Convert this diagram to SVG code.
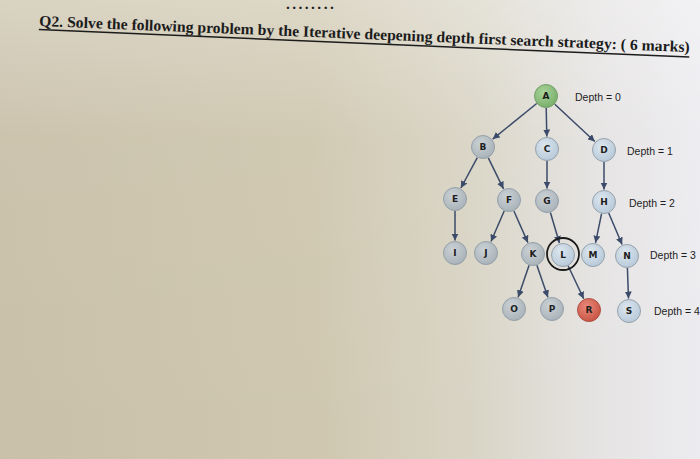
<svg xmlns="http://www.w3.org/2000/svg" width="700" height="459" viewBox="0 0 700 459">
  <defs>
    <linearGradient id="bgH" x1="0" y1="0" x2="1" y2="0">
      <stop offset="0" stop-color="#c9c0a9"/>
      <stop offset="0.45" stop-color="#cfc7af"/>
      <stop offset="0.68" stop-color="#d9d5c6"/>
      <stop offset="0.85" stop-color="#e5e3e2"/>
      <stop offset="1" stop-color="#ecebef"/>
    </linearGradient>
    <linearGradient id="bgV" x1="0" y1="0" x2="0" y2="1">
      <stop offset="0" stop-color="#ffffff" stop-opacity="0.3"/>
      <stop offset="0.3" stop-color="#ffffff" stop-opacity="0.05"/>
      <stop offset="1" stop-color="#ffffff" stop-opacity="0"/>
    </linearGradient>
    <radialGradient id="gGray" cx="0.4" cy="0.35" r="0.7">
      <stop offset="0" stop-color="#cbd2d6"/>
      <stop offset="1" stop-color="#a7b1b7"/>
    </radialGradient>
    <radialGradient id="gBlue" cx="0.4" cy="0.35" r="0.7">
      <stop offset="0" stop-color="#dce6ee"/>
      <stop offset="1" stop-color="#b6c8d8"/>
    </radialGradient>
    <radialGradient id="gGreen" cx="0.4" cy="0.35" r="0.7">
      <stop offset="0" stop-color="#a9d49b"/>
      <stop offset="1" stop-color="#77ad69"/>
    </radialGradient>
    <radialGradient id="gRed" cx="0.4" cy="0.35" r="0.7">
      <stop offset="0" stop-color="#ea8a7b"/>
      <stop offset="1" stop-color="#c65242"/>
    </radialGradient>
    <marker id="arrow" markerUnits="userSpaceOnUse" markerWidth="8" markerHeight="7" refX="7" refY="3.5" orient="auto">
      <path d="M0,0 L7,3.5 L0,7 z" fill="#3b4b69"/>
    </marker>
    <style>
      .edge { stroke: #3b4b69; stroke-width: 1.5; fill: none; marker-end: url(#arrow); }
      .node { stroke: #8f9ba5; stroke-width: 0.9; }
      .gray { fill: url(#gGray); }
      .blue { fill: url(#gBlue); }
      .green { fill: url(#gGreen); stroke: #6f9a63; }
      .red { fill: url(#gRed); stroke: #a9493c; }
      .lbl { font-family: "DejaVu Sans", "Liberation Sans", sans-serif; font-size: 9px; font-weight: bold; fill: #1e1e1e; text-anchor: middle; }
      .depth { font-family: "Liberation Sans", "DejaVu Sans", sans-serif; font-size: 10.5px; fill: #1e1e1e; }
      .title { font-family: "Liberation Serif", "DejaVu Serif", serif; font-size: 15.5px; font-weight: bold; fill: #1c1c1c; }
    </style>
  </defs>

  <g id="background">
    <rect x="0" y="0" width="700" height="459" fill="url(#bgH)"/>
    <rect x="0" y="0" width="700" height="459" fill="url(#bgV)"/>
  </g>

  <g id="title">
    <text class="title" x="286" y="8.5" font-size="7.5" letter-spacing="2.4">........</text>
    <g transform="rotate(2.3 39 26)">
      <text class="title" x="39" y="26" textLength="651" lengthAdjust="spacingAndGlyphs">Q2. Solve the following problem by the Iterative deepening depth first search strategy: ( 6 marks)</text>
      <line x1="39" y1="29.5" x2="690" y2="31" stroke="#1c1c1c" stroke-width="1.5"/>
    </g>
  </g>

  <g id="connectors">
    <line class="edge" x1="536.7" y1="103.5" x2="492.7" y2="139.1"/>
    <line class="edge" x1="546.2" y1="108" x2="546.8" y2="136.5"/>
    <line class="edge" x1="554.8" y1="104.2" x2="594.8" y2="141.5"/>
    <line class="edge" x1="477.3" y1="157.6" x2="460.9" y2="188"/>
    <line class="edge" x1="488.3" y1="157.8" x2="503.5" y2="188.8"/>
    <line class="edge" x1="547" y1="161" x2="547" y2="188.5"/>
    <line class="edge" x1="604" y1="162" x2="604" y2="189.5"/>
    <line class="edge" x1="455" y1="211" x2="455" y2="240.5"/>
    <line class="edge" x1="504.2" y1="211" x2="491" y2="241.5"/>
    <line class="edge" x1="513.9" y1="211" x2="527.9" y2="242.6"/>
    <line class="edge" x1="550.4" y1="212.5" x2="559.4" y2="243"/>
    <line class="edge" x1="601.6" y1="213.7" x2="595.5" y2="242.8"/>
    <line class="edge" x1="608.7" y1="213" x2="622.1" y2="244.5"/>
    <line class="edge" x1="529.1" y1="265.3" x2="518.1" y2="297.2"/>
    <line class="edge" x1="536.9" y1="265.3" x2="547.9" y2="297.2"/>
    <line class="edge" x1="568.1" y1="265.8" x2="583.7" y2="298.7"/>
    <line class="edge" x1="627.4" y1="268" x2="628.5" y2="298.5"/>
  </g>

  <g id="node-A"><circle class="node green" cx="546" cy="96" r="11.5"/><text class="lbl" x="546" y="99.2">A</text></g>
  <g id="node-B"><circle class="node gray" cx="483" cy="147" r="11.5"/><text class="lbl" x="483" y="150.2">B</text></g>
  <g id="node-C"><circle class="node blue" cx="547" cy="149" r="11.5"/><text class="lbl" x="547" y="152.2">C</text></g>
  <g id="node-D"><circle class="node blue" cx="604" cy="150" r="11.5"/><text class="lbl" x="604" y="153.2">D</text></g>
  <g id="node-E"><circle class="node gray" cx="455" cy="199" r="11.5"/><text class="lbl" x="455" y="202.2">E</text></g>
  <g id="node-F"><circle class="node gray" cx="509" cy="200" r="11.5"/><text class="lbl" x="509" y="203.2">F</text></g>
  <g id="node-G"><circle class="node gray" cx="547" cy="201" r="11.5"/><text class="lbl" x="547" y="204.2">G</text></g>
  <g id="node-H"><circle class="node blue" cx="604" cy="202" r="11.5"/><text class="lbl" x="604" y="205.2">H</text></g>
  <g id="node-I"><circle class="node gray" cx="455" cy="253" r="11.5"/><text class="lbl" x="455" y="256.2">I</text></g>
  <g id="node-J"><circle class="node gray" cx="486" cy="253" r="11.5"/><text class="lbl" x="486" y="256.2">J</text></g>
  <g id="node-K"><circle class="node gray" cx="533" cy="254" r="11.5"/><text class="lbl" x="533" y="257.2">K</text></g>
  <g id="node-L"><circle class="node blue" cx="563" cy="255" r="11.5"/><text class="lbl" x="563" y="258.2">L</text><circle cx="563" cy="254" r="16" fill="none" stroke="#1a1a1a" stroke-width="1.8"/></g>
  <g id="node-M"><circle class="node blue" cx="593" cy="255" r="11.5"/><text class="lbl" x="593" y="258.2">M</text></g>
  <g id="node-N"><circle class="node blue" cx="627" cy="256" r="11.5"/><text class="lbl" x="627" y="259.2">N</text></g>
  <g id="node-O"><circle class="node gray" cx="514" cy="309" r="11.5"/><text class="lbl" x="514" y="312.2">O</text></g>
  <g id="node-P"><circle class="node gray" cx="552" cy="309" r="11.5"/><text class="lbl" x="552" y="312.2">P</text></g>
  <g id="node-R"><circle class="node red" cx="589" cy="310" r="11.5"/><text class="lbl" x="589" y="313.2">R</text></g>
  <g id="node-S"><circle class="node blue" cx="629" cy="311" r="11.5"/><text class="lbl" x="629" y="314.2">S</text></g>

  <g id="depth-labels">
    <text class="depth" x="575" y="101">Depth = 0</text>
    <text class="depth" x="627" y="154.5">Depth = 1</text>
    <text class="depth" x="629" y="207">Depth = 2</text>
    <text class="depth" x="650" y="259">Depth = 3</text>
    <text class="depth" x="654" y="315">Depth = 4</text>
  </g>
</svg>
